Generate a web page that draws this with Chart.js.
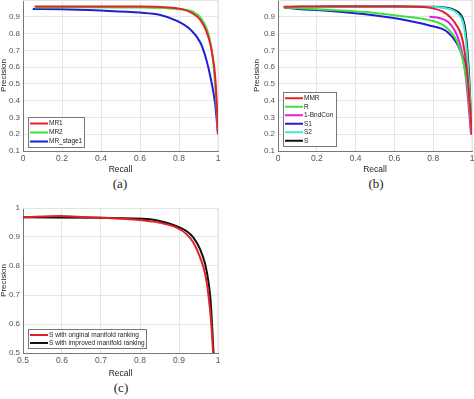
<!DOCTYPE html>
<html>
<head>
<meta charset="utf-8">
<script src="https://cdn.jsdelivr.net/npm/chart.js@4.4.1/dist/chart.umd.min.js"></script>
<style>
  html, body { margin: 0; padding: 0; background: #fff; }
  body { width: 474px; height: 399px; position: relative; overflow: hidden; }
  .panel { position: absolute; }
  .cap { position: absolute; font-family: "Liberation Serif", "DejaVu Serif", serif; font-size: 13px; color: #222; transform: translate(-50%, -50%); }
</style>
</head>
<body>
<div class="panel" style="left:0;top:-10px;width:228px;height:185px"><canvas id="chartA"></canvas></div>
<div class="panel" style="left:253px;top:-10px;width:221px;height:185px"><canvas id="chartB"></canvas></div>
<div class="panel" style="left:0;top:195px;width:228px;height:184px"><canvas id="chartC"></canvas></div>
<div class="cap" style="left:120px;top:184px">(a)</div>
<div class="cap" style="left:376px;top:184px">(b)</div>
<div class="cap" style="left:121px;top:388px">(c)</div>
<script>
// ---- data ----
// panel (a)
const mr1Recall = [0.06, 0.3, 0.6, 0.75, 0.82, 0.87, 0.91, 0.94, 0.96, 0.975, 0.985, 0.993, 1.0];
const mr1Prec   = [0.962, 0.962, 0.961, 0.955, 0.944, 0.92, 0.88, 0.815, 0.74, 0.645, 0.55, 0.4, 0.2];
const mr2Recall = [0.06, 0.3, 0.6, 0.75, 0.82, 0.87, 0.91, 0.94, 0.96, 0.975, 0.985, 0.993, 1.0];
const mr2Prec   = [0.955, 0.957, 0.955, 0.95, 0.943, 0.93, 0.895, 0.835, 0.755, 0.64, 0.5, 0.36, 0.2];
const stage1Recall = [0.05, 0.2, 0.4, 0.6, 0.7, 0.79, 0.86, 0.91, 0.94, 0.965, 0.985, 1.0];
const stage1Prec   = [0.946, 0.945, 0.937, 0.925, 0.912, 0.875, 0.822, 0.745, 0.645, 0.52, 0.385, 0.2];

// panel (b)
const mmrRecall = [0.03, 0.3, 0.6, 0.75, 0.8, 0.85, 0.89, 0.92, 0.945, 0.962, 0.975, 0.987, 1.0];
const mmrPrec   = [0.96, 0.962, 0.961, 0.958, 0.95, 0.93, 0.895, 0.85, 0.79, 0.69, 0.57, 0.4, 0.2];
const rRecall = [0.03, 0.2, 0.45, 0.62, 0.78, 0.85, 0.89, 0.92, 0.945, 0.965, 0.98, 0.99, 1.0];
const rPrec   = [0.955, 0.945, 0.928, 0.906, 0.88, 0.852, 0.81, 0.76, 0.68, 0.57, 0.45, 0.32, 0.2];
const bndRecall = [0.78, 0.82, 0.85, 0.88, 0.91, 0.935, 0.955, 0.968, 0.98, 0.99, 0.996];
const bndPrec   = [0.9, 0.896, 0.886, 0.866, 0.82, 0.75, 0.65, 0.54, 0.4, 0.27, 0.2];
const s1Recall = [0.03, 0.1, 0.27, 0.45, 0.62, 0.78, 0.87, 0.92, 0.95, 0.965, 0.978, 0.988, 0.995];
const s1Prec   = [0.955, 0.946, 0.935, 0.915, 0.888, 0.848, 0.812, 0.745, 0.67, 0.62, 0.5, 0.35, 0.2];
const s2Recall = [0.04, 0.3, 0.6, 0.8, 0.86, 0.9, 0.93, 0.955, 0.97, 0.982, 0.992, 1.0];
const s2Prec   = [0.952, 0.958, 0.96, 0.958, 0.952, 0.94, 0.915, 0.86, 0.74, 0.56, 0.36, 0.2];
const sRecall = [0.03, 0.3, 0.6, 0.8, 0.87, 0.91, 0.94, 0.96, 0.975, 0.985, 0.993, 1.0];
const sPrec   = [0.958, 0.962, 0.962, 0.96, 0.954, 0.94, 0.915, 0.86, 0.72, 0.55, 0.35, 0.2];

// panel (c)
const origRecall = [0.5, 0.595, 0.655, 0.783, 0.851, 0.894, 0.92, 0.937, 0.954, 0.967, 0.975, 0.982, 0.988];
const origPrec   = [0.968, 0.972, 0.969, 0.96, 0.949, 0.932, 0.909, 0.88, 0.83, 0.773, 0.705, 0.614, 0.49];
const imprRecall = [0.5, 0.697, 0.826, 0.868, 0.903, 0.92, 0.937, 0.954, 0.967, 0.975, 0.981, 0.985, 0.989];
const imprPrec   = [0.968, 0.966, 0.961, 0.949, 0.932, 0.92, 0.898, 0.858, 0.807, 0.75, 0.682, 0.591, 0.49];

// ticks
const xTicksAB = [0, 0.2, 0.4, 0.6, 0.8, 1];
const yTicksAB = [0.1, 0.2, 0.3, 0.4, 0.5, 0.6, 0.7, 0.8, 0.9];
const xTicksC = [0.5, 0.6, 0.7, 0.8, 0.9, 1];
const yTicksC = [0.5, 0.6, 0.7, 0.8, 0.9, 1];

const pts = (xs, ys) => xs.map((x, i) => ({ x: x, y: ys[i] }));
const FONT = '"Liberation Sans", Arial, sans-serif';
const fmt = v => String(Number(v.toFixed(2)));

// legend box drawn inside the plot, lower left
const boxLegend = {
    id: 'boxLegend',
    afterDraw(chart, args, o) {
        const ctx = chart.ctx, area = chart.chartArea;
        const sets = chart.data.datasets;
        const h = sets.length * o.rowH + 3;
        const x0 = area.left + o.left, y0 = area.bottom - o.bottom - h;
        ctx.save();
        ctx.fillStyle = '#fff';
        ctx.fillRect(x0, y0, o.width, h);
        ctx.strokeStyle = '#777';
        ctx.lineWidth = 1;
        ctx.strokeRect(x0 + 0.5, y0 + 0.5, o.width, h);
        ctx.font = o.fontSize + 'px ' + FONT;
        ctx.textBaseline = 'middle';
        sets.forEach((d, i) => {
            const y = y0 + 2 + o.rowH * (i + 0.5);
            ctx.strokeStyle = d.borderColor;
            ctx.lineWidth = 2;
            ctx.beginPath();
            ctx.moveTo(x0 + 2, y);
            ctx.lineTo(x0 + 20, y);
            ctx.stroke();
            ctx.fillStyle = '#222';
            ctx.fillText(d.label, x0 + 21, y);
        });
        ctx.restore();
    }
};

// light outline on top/right edges of the axes
const axesBox = {
    id: 'axesBox',
    beforeDatasetsDraw(chart) {
        const ctx = chart.ctx, a = chart.chartArea;
        ctx.save();
        ctx.strokeStyle = '#e3e3e3';
        ctx.lineWidth = 1;
        ctx.beginPath();
        ctx.moveTo(a.left, Math.round(a.top) + 0.5);
        ctx.lineTo(a.right, Math.round(a.top) + 0.5);
        ctx.lineTo(a.right, a.bottom);
        ctx.stroke();
        ctx.restore();
    }
};

function line(label, color, data) {
    return {
        label: label, data: data, borderColor: color, backgroundColor: color,
        borderWidth: 2, pointRadius: 0, cubicInterpolationMode: 'monotone', fill: false
    };
}

function makePanel(id, datasets, cfg) {
    new Chart(document.getElementById(id), {
        type: 'line',
        data: { datasets: datasets },
        plugins: [axesBox, boxLegend],
        options: {
            responsive: true,
            maintainAspectRatio: false,
            animation: false,
            parsing: false,
            layout: { padding: cfg.padding },
            plugins: {
                legend: { display: false },
                tooltip: { enabled: false },
                boxLegend: cfg.legend
            },
            scales: {
                x: {
                    type: 'linear', min: cfg.xMin, max: 1,
                    afterBuildTicks: s => { s.ticks = cfg.xTicks.map(v => ({ value: v })); },
                    afterFit: s => { s.height = cfg.xh; s.paddingLeft = 0; s.paddingRight = 0; },
                    grid: { color: '#e6e6e6', drawTicks: false },
                    border: { color: '#777' },
                    ticks: { color: '#555', font: { family: FONT, size: 8.5 }, padding: 3, maxRotation: 0, callback: fmt },
                    title: { display: true, text: 'Recall', color: '#222', font: { family: FONT, size: 8.5 }, padding: 0 }
                },
                y: {
                    type: 'linear', min: cfg.yMin, max: 1,
                    afterBuildTicks: s => { s.ticks = cfg.yTicks.map(v => ({ value: v })); },
                    afterFit: s => { s.width = cfg.yw; s.paddingTop = 0; s.paddingBottom = 0; },
                    grid: { color: '#e6e6e6', drawTicks: false },
                    border: { color: '#777' },
                    ticks: { color: '#555', font: { family: FONT, size: 8 }, padding: 3, callback: fmt },
                    title: { display: true, text: 'Precision', color: '#222', font: { family: FONT, size: 8 }, padding: { top: -1, bottom: 0 } }
                }
            }
        }
    });
}

makePanel('chartA', [
    line('MR1', '#e8202a', pts(mr1Recall, mr1Prec)),
    line('MR2', '#3fe03a', pts(mr2Recall, mr2Prec)),
    line('MR_stage1', '#1f1fd6', pts(stage1Recall, stage1Prec))
], {
    padding: { top: 10, right: 10, left: 0, bottom: 0 },
    xMin: 0, yMin: 0.1, xTicks: xTicksAB, yTicks: yTicksAB, xh: 24, yw: 23,
    legend: { left: 5, bottom: 4, width: 56, rowH: 9, fontSize: 6.5 }
});

makePanel('chartB', [
    line('MMR', '#e3202a', pts(mmrRecall, mmrPrec)),
    line('R', '#3fe03a', pts(rRecall, rPrec)),
    line('1-BndCon', '#e21ee2', pts(bndRecall, bndPrec)),
    line('S1', '#1f1fd6', pts(s1Recall, s1Prec)),
    line('S2', '#3ee8d8', pts(s2Recall, s2Prec)),
    line('S', '#111111', pts(sRecall, sPrec))
], {
    padding: { top: 10, right: 2, left: 0, bottom: 0 },
    xMin: 0, yMin: 0.1, xTicks: xTicksAB, yTicks: yTicksAB, xh: 24, yw: 25,
    legend: { left: 5, bottom: 5, width: 53, rowH: 8.5, fontSize: 6.5 }
});

makePanel('chartC', [
    line('S with original manifold ranking', '#e3202a', pts(origRecall, origPrec)),
    line('S with improved manifold ranking', '#111111', pts(imprRecall, imprPrec))
], {
    padding: { top: 13, right: 10, left: 0, bottom: 0 },
    xMin: 0.5, yMin: 0.5, xTicks: xTicksC, yTicks: yTicksC, xh: 26, yw: 23,
    legend: { left: 5, bottom: 5, width: 118, rowH: 8, fontSize: 6.5 }
});
</script>
</body>
</html>
